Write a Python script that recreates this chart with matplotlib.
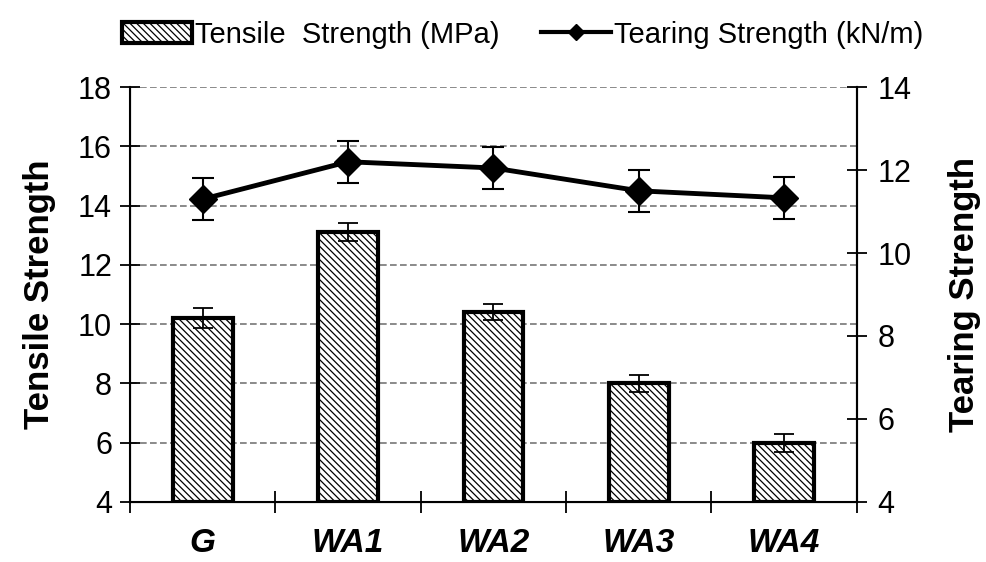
import matplotlib
matplotlib.use("Agg")
import matplotlib.pyplot as plt
import numpy as np
from matplotlib.lines import Line2D

plt.rcParams['font.family'] = ['Liberation Sans', 'DejaVu Sans']
plt.rcParams['hatch.color'] = '#888888'
plt.rcParams['hatch.linewidth'] = 0.9

# dane
samples = ["G", "WA1", "WA2", "WA3", "WA4"]
tensile = [10.2, 13.1, 10.4, 8.0, 6.0]
tensile_err = [0.33, 0.3, 0.27, 0.28, 0.3]
tearing = [11.3, 12.2, 12.05, 11.5, 11.33]
tearing_err = [0.5, 0.5, 0.5, 0.5, 0.5]

fig = plt.figure(figsize=(9.86, 5.62), dpi=100)
ax = fig.add_axes([0.132, 0.107, 0.737, 0.738])
x = np.arange(len(samples)) + 0.5

# słupki - wytrzymałość na rozciąganie
bars = ax.bar(x, [t - 4 for t in tensile], bottom=4, width=0.41, color='white',
              edgecolor='black', linewidth=3, hatch='\\\\\\\\\\',
              label='Tensile  Strength (MPa)', zorder=3)
ax.errorbar(x, tensile, yerr=tensile_err, fmt='none', ecolor='black',
            elinewidth=1.3, capsize=7, capthick=1.3, zorder=4)

ax.set_xlim(0, 5)
ax.set_ylim(4, 18)
ax.set_yticks(np.arange(4, 19, 2))
ax.set_xticks(np.arange(0, 6))
ax.set_xticks(x, minor=True)
ax.set_xticklabels([])
ax.set_xticklabels(samples, minor=True, fontsize=24, fontweight='bold', style='italic')
ax.tick_params(axis='x', which='minor', length=0, pad=19)
ax.tick_params(axis='x', which='major', direction='inout', length=16, width=1.3)
ax.tick_params(axis='y', direction='inout', length=14, width=1.3, labelsize=22, pad=6)
ax.grid(axis='y', linestyle=(0, (4, 2)), color='#777777', linewidth=1.2, zorder=0)
ax.spines['top'].set_visible(False)
for s in ['left', 'bottom', 'right']:
    ax.spines[s].set_linewidth(1.5)
ax.set_ylabel("Tensile Strength", fontsize=25, fontweight='bold', labelpad=16)

# linia - wytrzymałość na rozdzieranie (prawa oś)
ax2 = ax.twinx()
ax2.errorbar(x, tearing, yerr=tearing_err, color='black', linewidth=3.5,
             marker='D', markersize=14, ecolor='black', elinewidth=1.5,
             capsize=8, capthick=1.5, zorder=5)
ax2.set_ylim(4, 14)
ax2.set_yticks(np.arange(4, 15, 2))
ax2.tick_params(axis='y', direction='inout', length=14, width=1.3, labelsize=22, pad=8)
ax2.spines['top'].set_visible(False)
ax2.spines['right'].set_linewidth(1.5)
ax2.set_ylabel("Tearing Strength", fontsize=25, fontweight='bold', labelpad=26)

handles = [bars, Line2D([], [], color='black', linewidth=3, marker='D', markersize=8)]
labels = ['Tensile  Strength (MPa)', 'Tearing Strength (kN/m)']
fig.legend(handles, labels, loc='upper center', bbox_to_anchor=(0.53, 1.01), ncol=2,
           frameon=False, prop={'size': 21},
           handlelength=2.4, handletextpad=0.1, columnspacing=1.4)

fig.savefig("out.png", dpi=100)
